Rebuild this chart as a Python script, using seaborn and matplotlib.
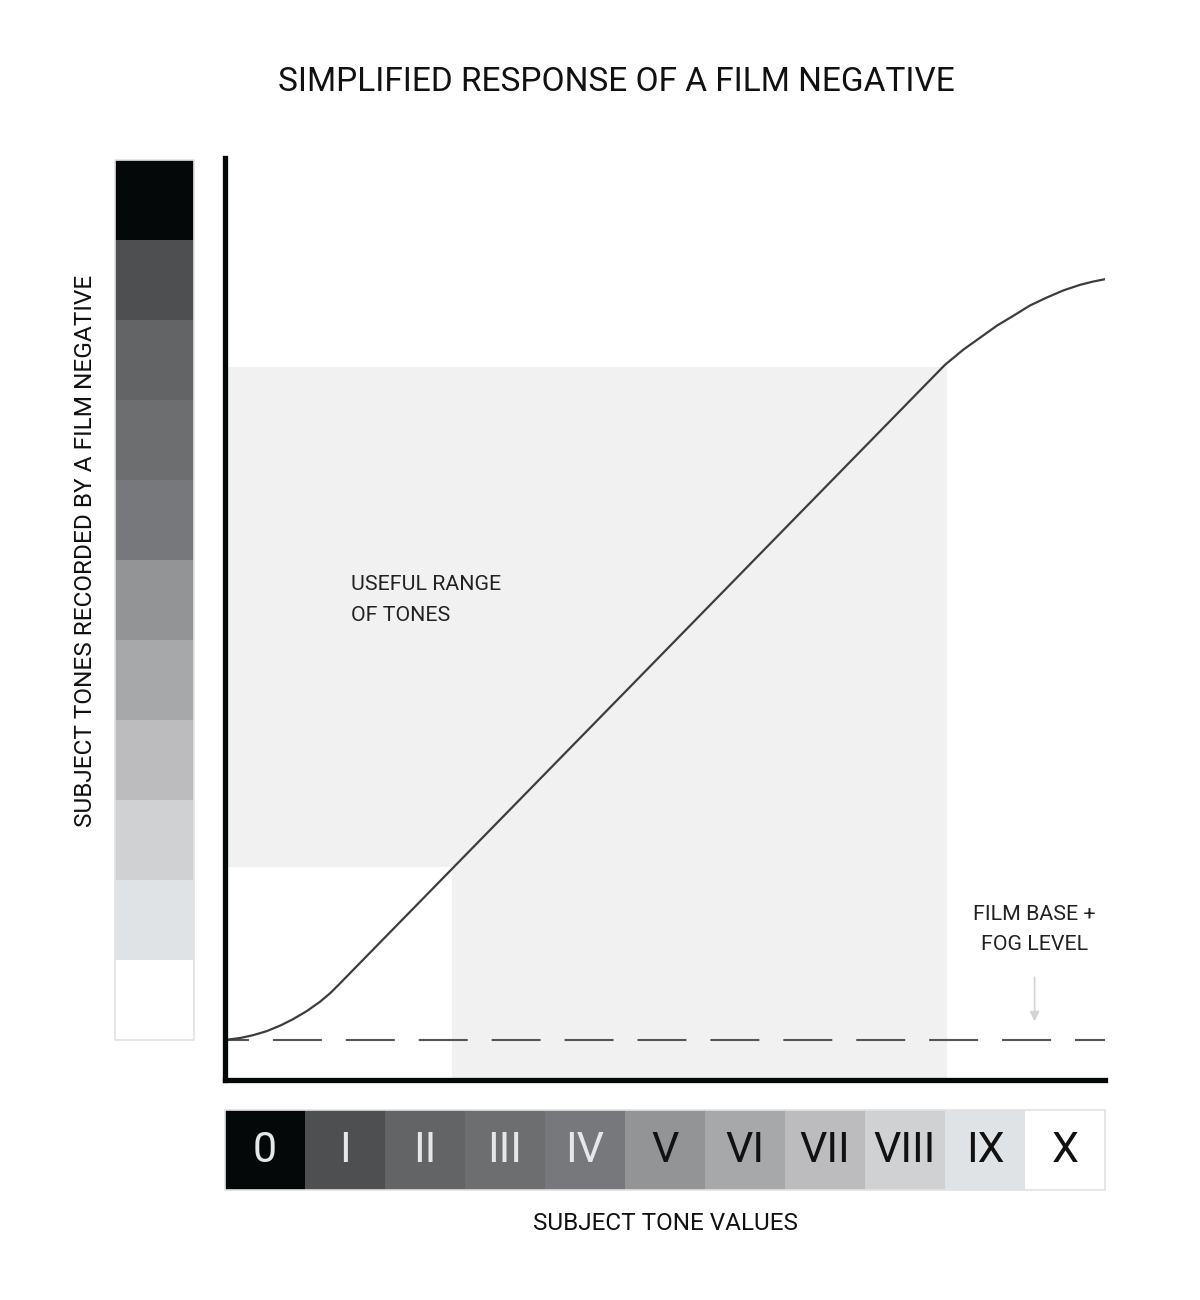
import numpy as np
import matplotlib
matplotlib.use('Agg')
import matplotlib.pyplot as plt
from matplotlib.colors import ListedColormap
from matplotlib.patches import Rectangle
import seaborn as sns

sns.set_theme(style='white')
plt.rcParams['font.family'] = ['Roboto', 'DejaVu Sans']

# 톤 단계 (0 = 가장 어두움, X = 흰색)
zone_labels = ['0', 'I', 'II', 'III', 'IV', 'V', 'VI', 'VII', 'VIII', 'IX', 'X']
zone_colors = ['#050809', '#4e4f51', '#636466', '#6d6e70', '#77787b', '#939496',
               '#a7a8aa', '#bcbcbe', '#d0d1d3', '#e0e3e6', '#ffffff']
zone_text_colors = ['#e6e7e8'] * 5 + ['#111111'] * 6

# 특성 곡선 (x: 피사체 톤, y: 기록된 톤) - 그림에서 읽은 값
curve_x = [0.0, 0.19, 0.35, 0.52, 0.69, 0.85, 1.02, 1.19, 1.32, 1.44,
           9.0, 9.23, 9.44, 9.65, 9.85, 10.06, 10.27, 10.48, 10.69, 10.85, 11.0]
curve_y = [0.0, 0.025, 0.06, 0.11, 0.18, 0.26, 0.36, 0.48, 0.59, 0.71,
           8.44, 8.63, 8.78, 8.93, 9.05, 9.18, 9.28, 9.37, 9.44, 9.48, 9.51]

# 유효 톤 범위 (L자 음영)
useful_x = (0.0, 9.02)
useful_y = (2.16, 8.41)
low_x = (2.84, 9.02)
fog_level = 0.0

fig = plt.figure(figsize=(12, 13), dpi=100)
W, H = 1200, 1300

def px_axes(x0, y0, x1, y1):
    return fig.add_axes([x0 / W, 1 - y1 / H, (x1 - x0) / W, (y1 - y0) / H])

# 메인 그래프
ax = px_axes(225, 158, 1105, 1080)
ax.set_xlim(0, 11)
ax.set_ylim(-0.5, 11.025)
ax.add_patch(Rectangle((useful_x[0], useful_y[0]), useful_x[1] - useful_x[0],
                       useful_y[1] - useful_y[0], color='#f1f1f1', lw=0, zorder=0))
ax.add_patch(Rectangle((low_x[0], -0.5), low_x[1] - low_x[0],
                       useful_y[0] + 0.5, color='#f1f1f1', lw=0, zorder=0))
ax.axhline(fog_level, color='#555555', lw=1.5, linestyle=(12, (23.5, 11.5)), zorder=1)
sns.lineplot(x=curve_x, y=curve_y, ax=ax, color='#3d3d3d', lw=1.6, sort=False,
             estimator=None, zorder=2)
for s in ['top', 'right']:
    ax.spines[s].set_visible(False)
for s in ['left', 'bottom']:
    ax.spines[s].set_linewidth(3.8)
    ax.spines[s].set_color('#050808')
ax.set_xticks([])
ax.set_yticks([])

ax.text(1.57, 5.5, 'USEFUL RANGE\nOF TONES', fontsize=15.4, color='#222222',
        ha='left', va='center', linespacing=1.75)
ax.text(10.12, 1.38, 'FILM BASE +\nFOG LEVEL', fontsize=15.4, color='#222222',
        ha='center', va='center', linespacing=1.75)
ax.annotate('', xy=(10.12, 0.2), xytext=(10.12, 0.82),
            arrowprops=dict(arrowstyle='-|>', color='#d1d3d4', lw=1.2, mutation_scale=14))

# 왼쪽 톤 막대
axl = px_axes(115, 160, 194, 1040)
sns.heatmap(np.arange(11).reshape(11, 1), ax=axl, cmap=ListedColormap(zone_colors),
            vmin=-0.5, vmax=10.5, cbar=False, xticklabels=False, yticklabels=False)
axl.add_patch(Rectangle((0, 0), 1, 11, fill=False, ec='#e2e2e2', lw=1.2, clip_on=False))

# 아래 톤 막대
axb = px_axes(225, 1110, 1105, 1190)
annot = np.array(zone_labels).reshape(1, 11)
sns.heatmap(np.arange(11).reshape(1, 11), ax=axb, cmap=ListedColormap(zone_colors),
            vmin=-0.5, vmax=10.5, cbar=False, xticklabels=False, yticklabels=False,
            annot=annot, fmt='', annot_kws={'fontsize': 31})
for t, c in zip(axb.texts, zone_text_colors):
    t.set_color(c)
axb.add_patch(Rectangle((0, 0), 11, 1, fill=False, ec='#e2e2e2', lw=1.2, clip_on=False))

fig.text(616 / W, 1 - 82 / H, 'SIMPLIFIED RESPONSE OF A FILM NEGATIVE', fontsize=24,
         ha='center', va='center', color='#111111')
fig.text(665 / W, 1 - 1223 / H, 'SUBJECT TONE VALUES', fontsize=17.5,
         ha='center', va='center', color='#111111')
fig.text(86 / W, 1 - 551 / H, 'SUBJECT TONES RECORDED BY A FILM NEGATIVE', fontsize=17.6,
         ha='center', va='center', rotation=90, color='#111111')

fig.savefig('out.png', dpi=100)
